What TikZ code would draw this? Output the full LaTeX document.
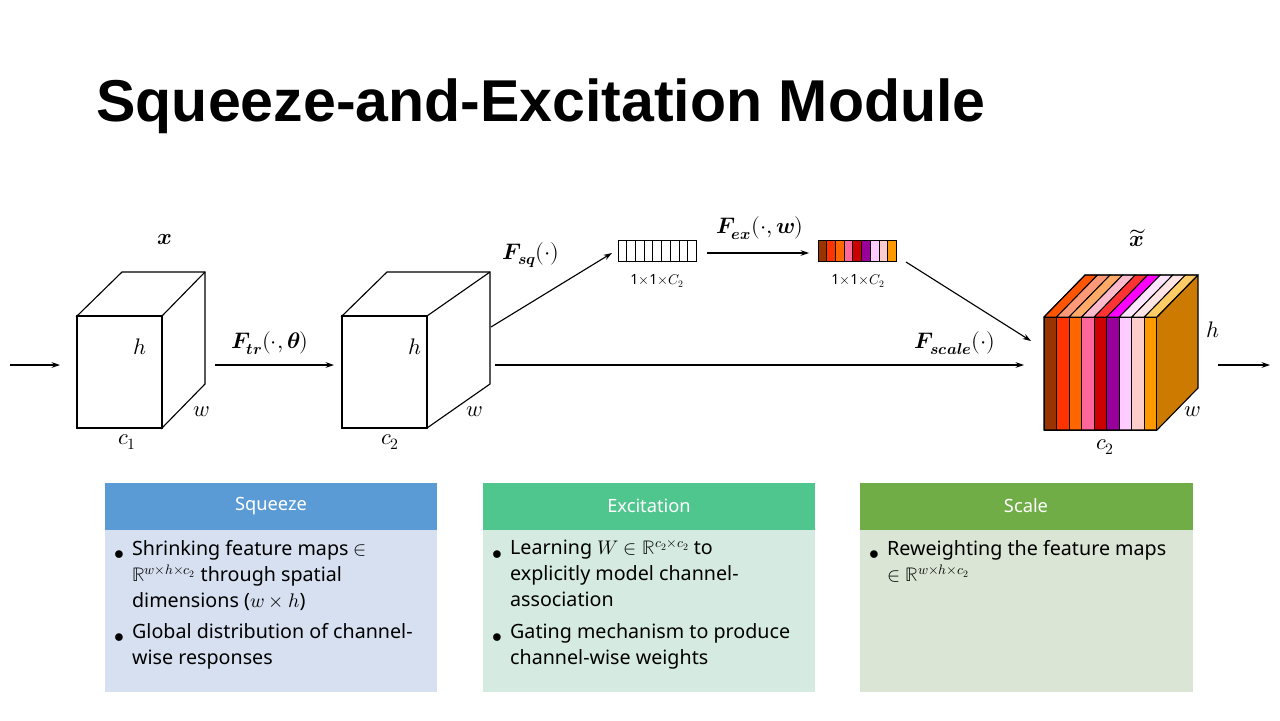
\documentclass[tikz,border=0pt]{standalone}
\usepackage{amssymb,amsmath}
\usepackage{unicode-math}
\setmainfont{Noto Sans}
\setmathfont{Latin Modern Math}
\newfontfamily\titlefont{Liberation Sans}
\usetikzlibrary{arrows.meta}
\definecolor{sqh}{HTML}{5B9BD5}\definecolor{sqb}{HTML}{D6E0F0}
\definecolor{exh}{HTML}{4FC68E}\definecolor{exb}{HTML}{D5EBE1}
\definecolor{sch}{HTML}{70AD47}\definecolor{scb}{HTML}{DAE5D5}
\tikzset{
  ar/.style={-{Stealth[length=12pt,width=8pt]},line width=1.6pt},
  ml/.style={font=\fontsize{32}{36}\selectfont},
  dl/.style={font=\fontsize{32}{36}\selectfont},
  sl/.style={font=\fontsize{20}{24}\selectfont},
  hd/.style={font=\fontsize{26}{30}\selectfont,text=white},
  bt/.style={font=\fontsize{28}{37}\selectfont,align=left,anchor=north west,inner sep=0pt},
  bl/.style={font=\fontsize{28}{37}\selectfont,anchor=base west,inner sep=0pt},
  cube/.style={line width=1.6pt,fill=white}
}
\begin{document}
\begin{tikzpicture}[x=0.5mm,y=-0.5mm]
\useasboundingbox (0,0) rectangle (1280,720);
\node[anchor=west,font=\titlefont\bfseries\fontsize{84}{94}\selectfont] (title) at (94,106) {Squeeze-and-Excitation Module};
% cube 1
\draw[cube] (77,316) -- (122,272) -- (205,272) -- (205,384) -- (162,428) -- (162,316) -- cycle;
\draw[cube] (162,316) -- (205,272);
\draw[cube] (77,316) rectangle (162,428);
\node[ml] (x) at (165,240) {$\symbfit{x}$};
\node[ml] (h1) at (140,347) {$h$};
\node[ml] (w1) at (202,412) {$w$};
\node[ml] (cc1) at (127,442) {$c_1$};
% cube 2
\draw[cube] (342,316) -- (387,272) -- (490,272) -- (490,384) -- (427,428) -- (427,316) -- cycle;
\draw[cube] (427,316) -- (490,272);
\draw[cube] (342,316) rectangle (427,428);
\node[ml] (h2) at (415,347) {$h$};
\node[ml] (w2) at (475,412) {$w$};
\node[ml] (cc2) at (390,442) {$c_2$};
% cube 3
\def\sw{12.55}
\fill[fill={rgb,255:red,204;green,122;blue,0}] (1157,317) -- (1198,275) -- (1198,388) -- (1157,430) -- cycle;
\foreach \fc/\tc [count=\i from 0] in {993300/FF5500,FF3300/FF9977,FF6600/FFAA66,FF6699/FFBBCC,CC0000/FF3333,990099/FF00FF,FFCCFF/FFE5FF,FFCCCC/FFE5E5,FF9900/FFCC66}{
  \definecolor{f}{HTML}{\fc}\definecolor{t}{HTML}{\tc}
  \pgfmathsetmacro\xa{1044+\i*\sw}\pgfmathsetmacro\xb{\xa+\sw}
  \draw[line width=1.4pt,fill=t] (\xa,317) -- (\xa+41,275) -- (\xb+41,275) -- (\xb,317) -- cycle;
  \draw[line width=1.4pt,fill=f] (\xa,317) rectangle (\xb,430);
}
\draw[line width=1.6pt] (1044,317) -- (1085,275) -- (1198,275) -- (1198,388) -- (1157,430) -- (1044,430) -- cycle (1157,317) -- (1198,275);
\node[ml] (xt) at (1137,238) {$\widetilde{\symbfit{x}}$};
\node[ml] (h3) at (1213,330) {$h$};
\node[ml] (w3) at (1193,412) {$w$};
\node[ml] (cc3) at (1105,447) {$c_2$};
% vectors
\foreach \i in {0,...,8}{\draw[line width=1pt] (618+\i*8.7,240) rectangle (618+\i*8.7+8.7,261);}
\coordinate (v1l) at (612,253);
\foreach \c [count=\i from 0] in {993300,FF3300,FF6600,FF6699,CC0000,990099,FFCCFF,FFCCCC,FF9900}{
  \definecolor{f}{HTML}{\c}\draw[line width=1pt,fill=f] (818+\i*8.7,240) rectangle (818+\i*8.7+8.7,261);}
\node[sl] (d1) at (657,281) {1$\times$1$\times$$C_2$};
\node[sl] (d2) at (858,281) {1$\times$1$\times$$C_2$};
% arrows
\coordinate (in0) at (10,365); \coordinate (in1) at (60,365);
\draw[ar] (in0) -- (in1);
\coordinate (a1) at (215,365); \coordinate (a2) at (334,365);
\draw[ar] (a1) -- (a2);
\node[dl] (ftr) at (270,343) {$\symbfit{F_{tr}}(\cdot,\symbfit{\theta})$};
\coordinate (b1) at (495,365); \coordinate (b2) at (1024,365);
\draw[ar] (b1) -- (b2);
\node[dl] (fsc) at (955,343) {$\symbfit{F_{scale}}(\cdot)$};
\coordinate (s1) at (491,327);
\draw[ar] (s1) -- (v1l);
\node[dl] (fsq) at (531,255) {$\symbfit{F_{sq}}(\cdot)$};
\coordinate (e1) at (707,253); \coordinate (e2) at (809,253);
\draw[ar] (e1) -- (e2);
\node[dl] (fex) at (760,228) {$\symbfit{F_{ex}}(\cdot,\symbfit{w})$};
\coordinate (g1) at (906,262); \coordinate (g2) at (1031,341);
\draw[ar] (g1) -- (g2);
\coordinate (o1) at (1218,365); \coordinate (o2) at (1270,365);
\draw[ar] (o1) -- (o2);
% boxes
\fill[sqb] (105,530) rectangle (437,692); \fill[sqh] (105,483) rectangle (437,530);
\node[hd] (hsq) at (271,506) {Squeeze};
\fill[exb] (483,530) rectangle (815,692); \fill[exh] (483,483) rectangle (815,530);
\node[hd] (hex) at (649,506) {Excitation};
\fill[scb] (860,530) rectangle (1193,692); \fill[sch] (860,483) rectangle (1193,530);
\node[hd] (hsc) at (1026,506) {Scale};
\node[bl] (b11) at (114,559) {$\bullet$};
\node[bt] (t11) at (132,540) {Shrinking feature maps $\in$\\$\mathbb{R}^{w\times h\times c_2}$ through spatial\\dimensions ($w\times h$)};
\node[bl] (b12) at (114,642) {$\bullet$};
\node[bt] (t12) at (132,623) {Global distribution of channel-\\wise responses};
\node[bl] (b21) at (492,559) {$\bullet$};
\node[bt] (t21) at (510,540) {Learning $W\in\mathbb{R}^{c_2\times c_2}$ to\\explicitly model channel-\\association};
\node[bl] (b22) at (492,642) {$\bullet$};
\node[bt] (t22) at (510,623) {Gating mechanism to produce\\channel-wise weights};
\node[bl] (b31) at (869,559) {$\bullet$};
\node[bt] (t31) at (887,540) {Reweighting the feature maps\\$\in\mathbb{R}^{w\times h\times c_2}$};
\end{tikzpicture}
\end{document}
